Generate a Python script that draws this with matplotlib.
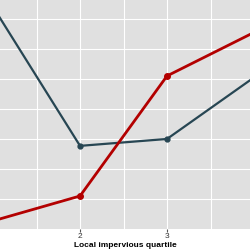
import matplotlib
matplotlib.use("Agg")
import matplotlib.pyplot as plt

# data
quartile = [1, 2, 3, 4]
dark_series = [0.74, 0.277, 0.30, 0.505]
red_series = [0.027, 0.11, 0.51, 0.655]
x_ticks = [2, 3]
x_tick_labels = ["2", "3"]

plt.rcParams['font.family'] = ['Liberation Sans', 'DejaVu Sans']

fig = plt.figure(figsize=(2.5, 2.5), dpi=100)
ax = fig.add_axes([0, 0.084, 1, 0.916])
ax.set_facecolor('#e0e0e0')

ax.plot(quartile, dark_series, color='#274653', lw=1.6, marker='o', ms=3.5, zorder=3)
ax.plot(quartile, red_series, color='#b30000', lw=2.0, marker='o', ms=4, zorder=4)

ax.set_xlim(1.08, 3.954)
ax.set_ylim(0, 0.763)
ax.set_xticks(x_ticks)
ax.set_xticklabels(x_tick_labels, fontsize=6, color='#333333')
ax.set_xticks([1.5, 2.5, 3.5], minor=True)
ax.set_yticks([0.1 * k for k in range(1, 8)])
ax.set_yticklabels([])
ax.tick_params(axis='y', length=0)
ax.tick_params(axis='x', which='major', length=2, width=0.8, color='#555555', pad=1)
ax.tick_params(axis='x', which='minor', length=0)
ax.grid(True, which='both', color='white', lw=0.8)
ax.set_axisbelow(True)
for s in ax.spines.values():
    s.set_visible(False)

ax.set_xlabel("Local impervious quartile", fontsize=6, fontweight='bold', labelpad=1.5)

fig.savefig("out.png", dpi=100)
